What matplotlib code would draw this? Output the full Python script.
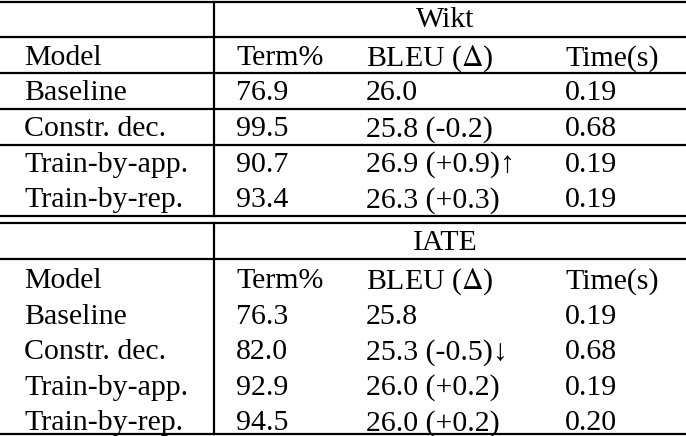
import matplotlib
matplotlib.use("Agg")
import matplotlib.pyplot as plt

plt.rcParams['font.family'] = ['Liberation Serif', 'DejaVu Serif']
plt.rcParams['mathtext.fontset'] = 'stix'

columns = ["Model", "Term%", "BLEU ($\\Delta$)", "Time(s)"]
models = ["Baseline", "Constr. dec.", "Train-by-app.", "Train-by-rep."]
wikt_term = ["76.9", "99.5", "90.7", "93.4"]
wikt_bleu = ["26.0", "25.8 (-0.2)", "26.9 (+0.9)↑", "26.3 (+0.3)"]
wikt_time = ["0.19", "0.68", "0.19", "0.19"]
iate_term = ["76.3", "82.0", "92.9", "94.5"]
iate_bleu = ["25.8", "25.3 (-0.5)↓", "26.0 (+0.2)", "26.0 (+0.2)"]
iate_time = ["0.19", "0.68", "0.19", "0.20"]

W, H = 686, 436
fig = plt.figure(figsize=(W/100, H/100), dpi=100)
ax = fig.add_axes([0, 0, 1, 1])
ax.set_xlim(0, W)
ax.set_ylim(H, 0)
ax.axis('off')

colx = [24, 236, 366, 565]
fs = 21.5
lw = 1.6

def block(title, y0, term, bleu, tim):
    ax.text(445, y0, title, ha='center', va='center_baseline', fontsize=fs)
    ys = [y0 + 38 + i * 35.5 for i in range(5)]
    for x, c in zip(colx, columns):
        ax.text(x, ys[0], c, ha='left', va='center_baseline', fontsize=fs)
    for i in range(4):
        row = [models[i], term[i], bleu[i], tim[i]]
        for x, c in zip(colx, row):
            ax.text(x, ys[i + 1], c, ha='left', va='center_baseline', fontsize=fs)

block("Wikt", 17, wikt_term, wikt_bleu, wikt_time)
block("IATE", 240, iate_term, iate_bleu, iate_time)

for y in [2, 37, 73, 109, 145, 216, 223, 259, 434]:
    ax.plot([0, W], [y, y], color='black', lw=lw, solid_capstyle='butt')
ax.plot([214, 214], [2, 216], color='black', lw=lw)
ax.plot([214, 214], [223, 434], color='black', lw=lw)

fig.savefig("out.png", dpi=100)
